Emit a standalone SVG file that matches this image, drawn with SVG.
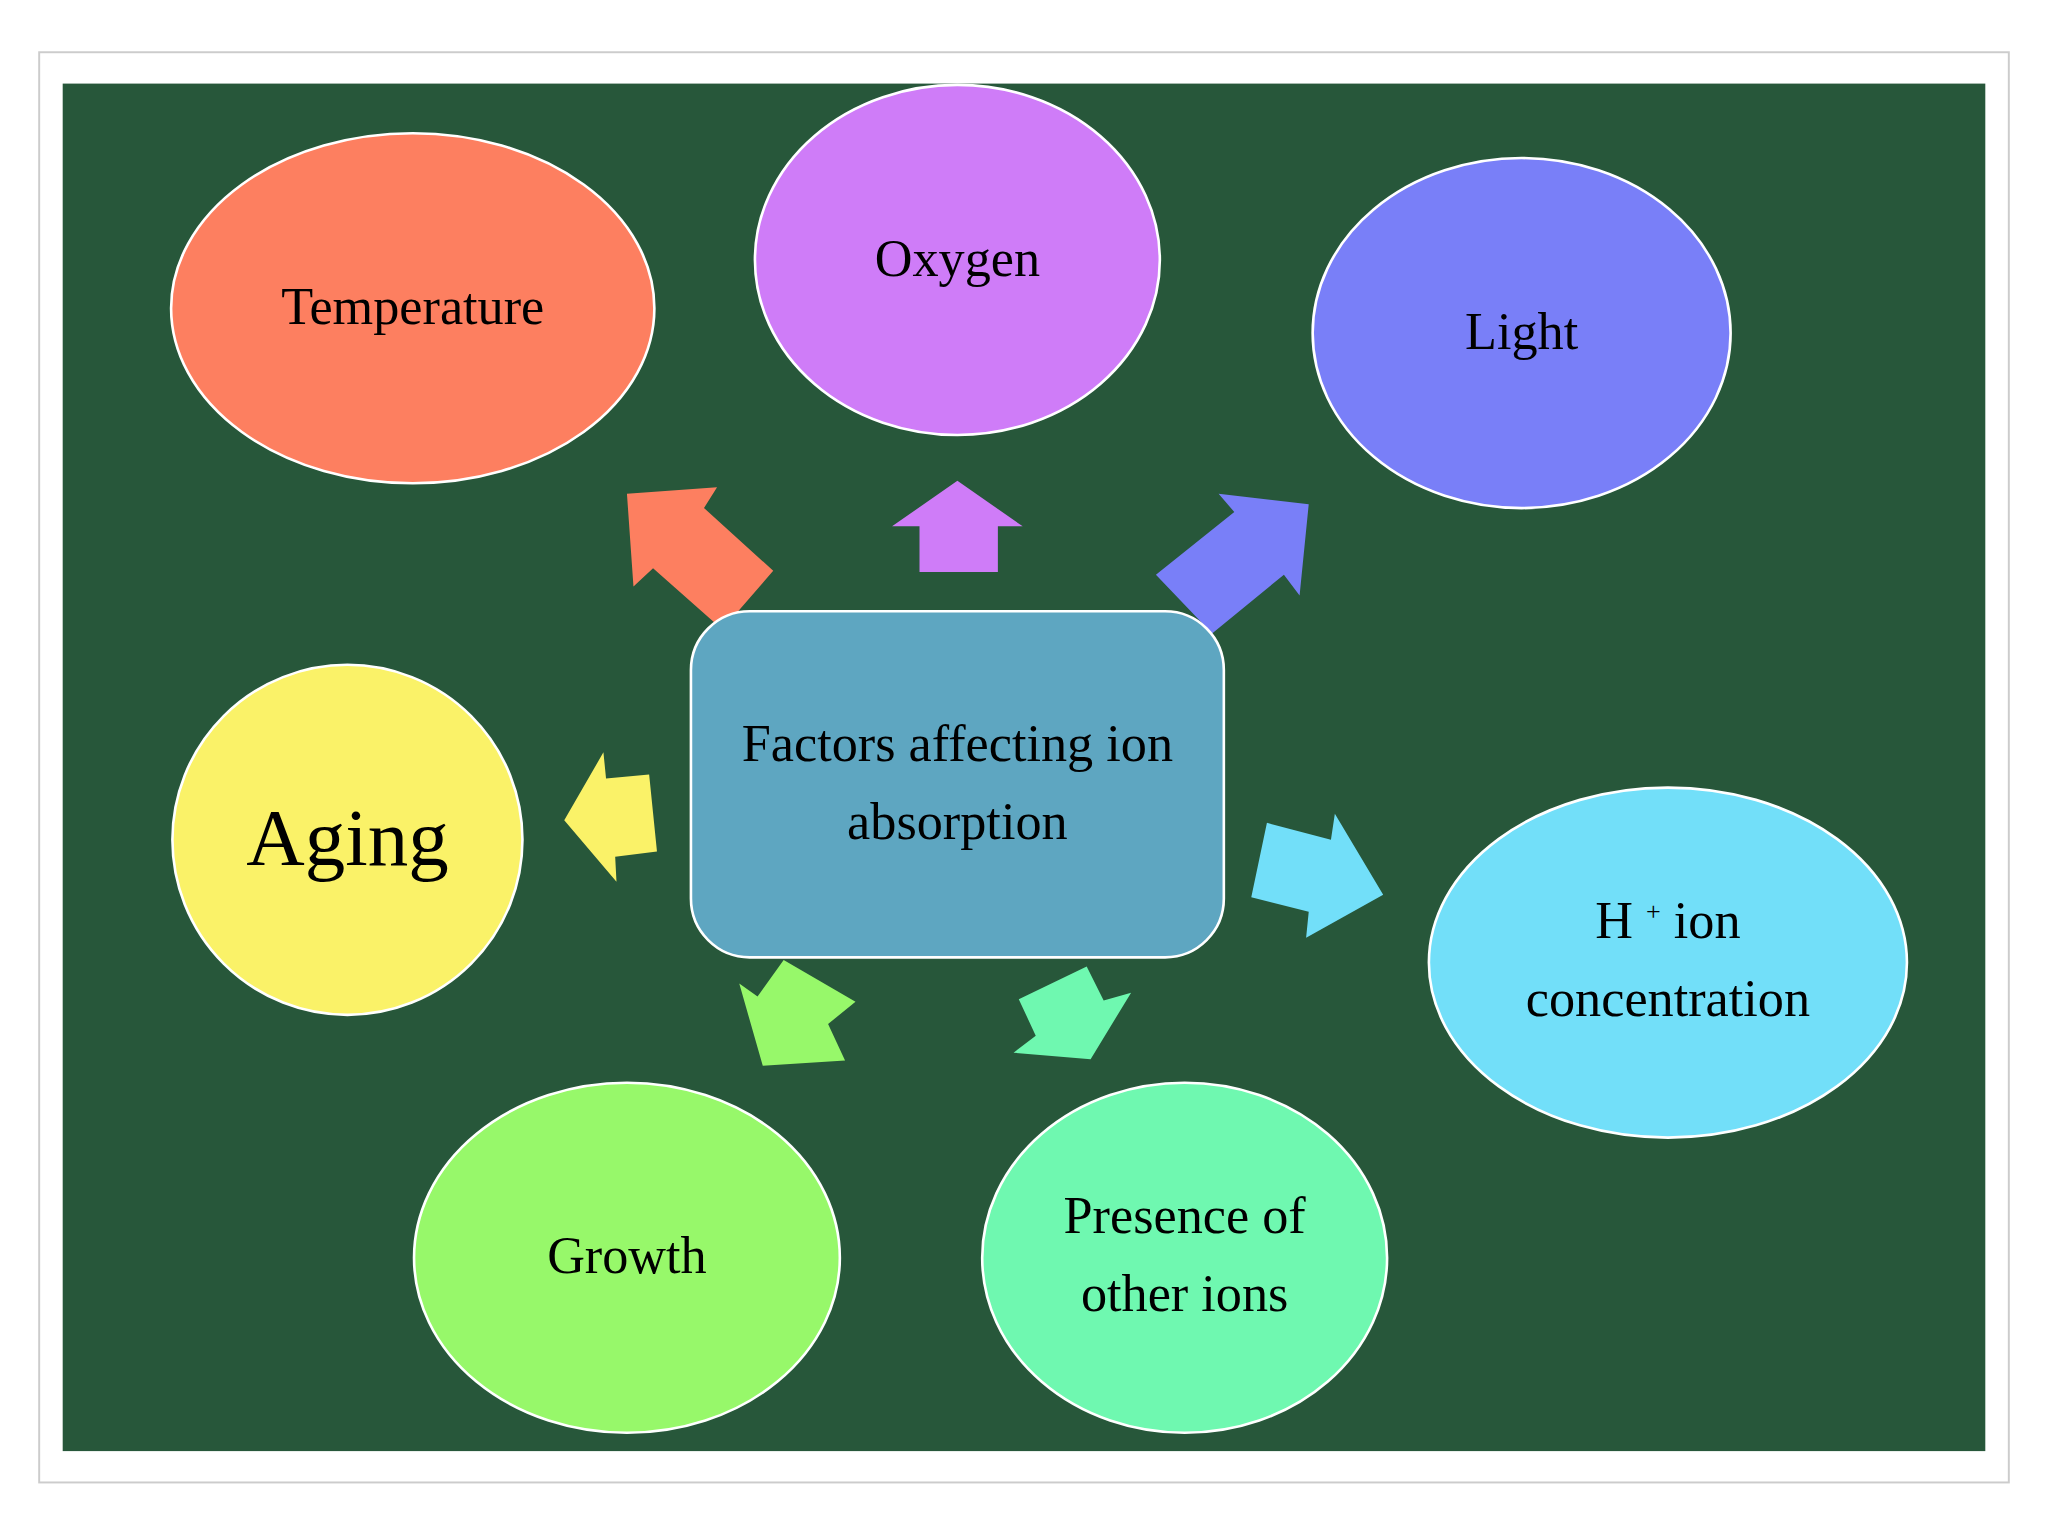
<svg xmlns="http://www.w3.org/2000/svg" width="2048" height="1536" viewBox="0 0 2048 1536">
<style>
.n{stroke:#fff;stroke-width:2}
.t{font-family:"Liberation Serif",serif;fill:#000;text-anchor:middle;font-size:40px}
</style>
<rect width="2048" height="1536" fill="#fff"/>
<g transform="scale(1.30612)">
<rect x="30" y="40" width="1508" height="1095" fill="#fff" stroke="#ccc" stroke-width="1.5"/>
<rect x="48" y="64" width="1472" height="1047" fill="#27573a"/>
<g id="connectors">
<polygon points="480,378 549,373 539,389 592,437 553,482 500,435 485,449" fill="#fd7f60"/>
<polygon points="683,403 733,368 783,403 764,403 764,438 704,438 704,403" fill="#cf7cf8"/>
<polygon points="933,378 1002,386 995,456 983,440 928,485 885,440 945,392" fill="#797ff8"/>
<polygon points="432,628 462,576 464,596 497,593 503,652 471,656 472,675" fill="#faf268"/>
<polygon points="958,687 970,630 1019,643 1022,623 1059,685 1000,718 1002,698" fill="#72dff9"/>
<polygon points="600,735 655,767 634,784 647,812 584,816 566,753 580,763" fill="#97f86a"/>
<polygon points="780,765 832,740 845,766 866,760 835,811 776,806 793,793" fill="#6ff8b0"/>
</g>
<g id="temperature"><ellipse class="n" cx="316" cy="236" rx="185" ry="134" fill="#fd7f60"/><text class="t" x="316" y="248">Temperature</text></g>
<g id="oxygen"><ellipse class="n" cx="733" cy="199" rx="155" ry="134" fill="#cf7cf8"/><text class="t" x="733" y="211">Oxygen</text></g>
<g id="light"><ellipse class="n" cx="1165" cy="255" rx="160" ry="134" fill="#797ff8"/><text class="t" x="1165" y="267">Light</text></g>
<g id="center"><rect class="n" x="529" y="468" width="408" height="265" rx="45" fill="#5ea6c1"/><text class="t" x="733" y="583">Factors affecting ion</text><text class="t" x="733" y="642">absorption</text></g>
<g id="aging"><ellipse class="n" cx="266" cy="643" rx="134" ry="134" fill="#faf268"/><text class="t" x="266" y="662" style="font-size:62px">Aging</text></g>
<g id="hion"><ellipse class="n" cx="1277" cy="737" rx="183" ry="134" fill="#72dff9"/><text class="t" x="1277" y="718">H <tspan style="font-size:20px" dy="-14">+</tspan><tspan dy="14"> ion</tspan></text><text class="t" x="1277" y="778">concentration</text></g>
<g id="growth"><ellipse class="n" cx="480" cy="963" rx="163" ry="134" fill="#97f86a"/><text class="t" x="480" y="975">Growth</text></g>
<g id="presence"><ellipse class="n" cx="907" cy="963" rx="155" ry="134" fill="#6ff8b0"/><text class="t" x="907" y="944">Presence of</text><text class="t" x="907" y="1004">other ions</text></g>
</g>
</svg>
